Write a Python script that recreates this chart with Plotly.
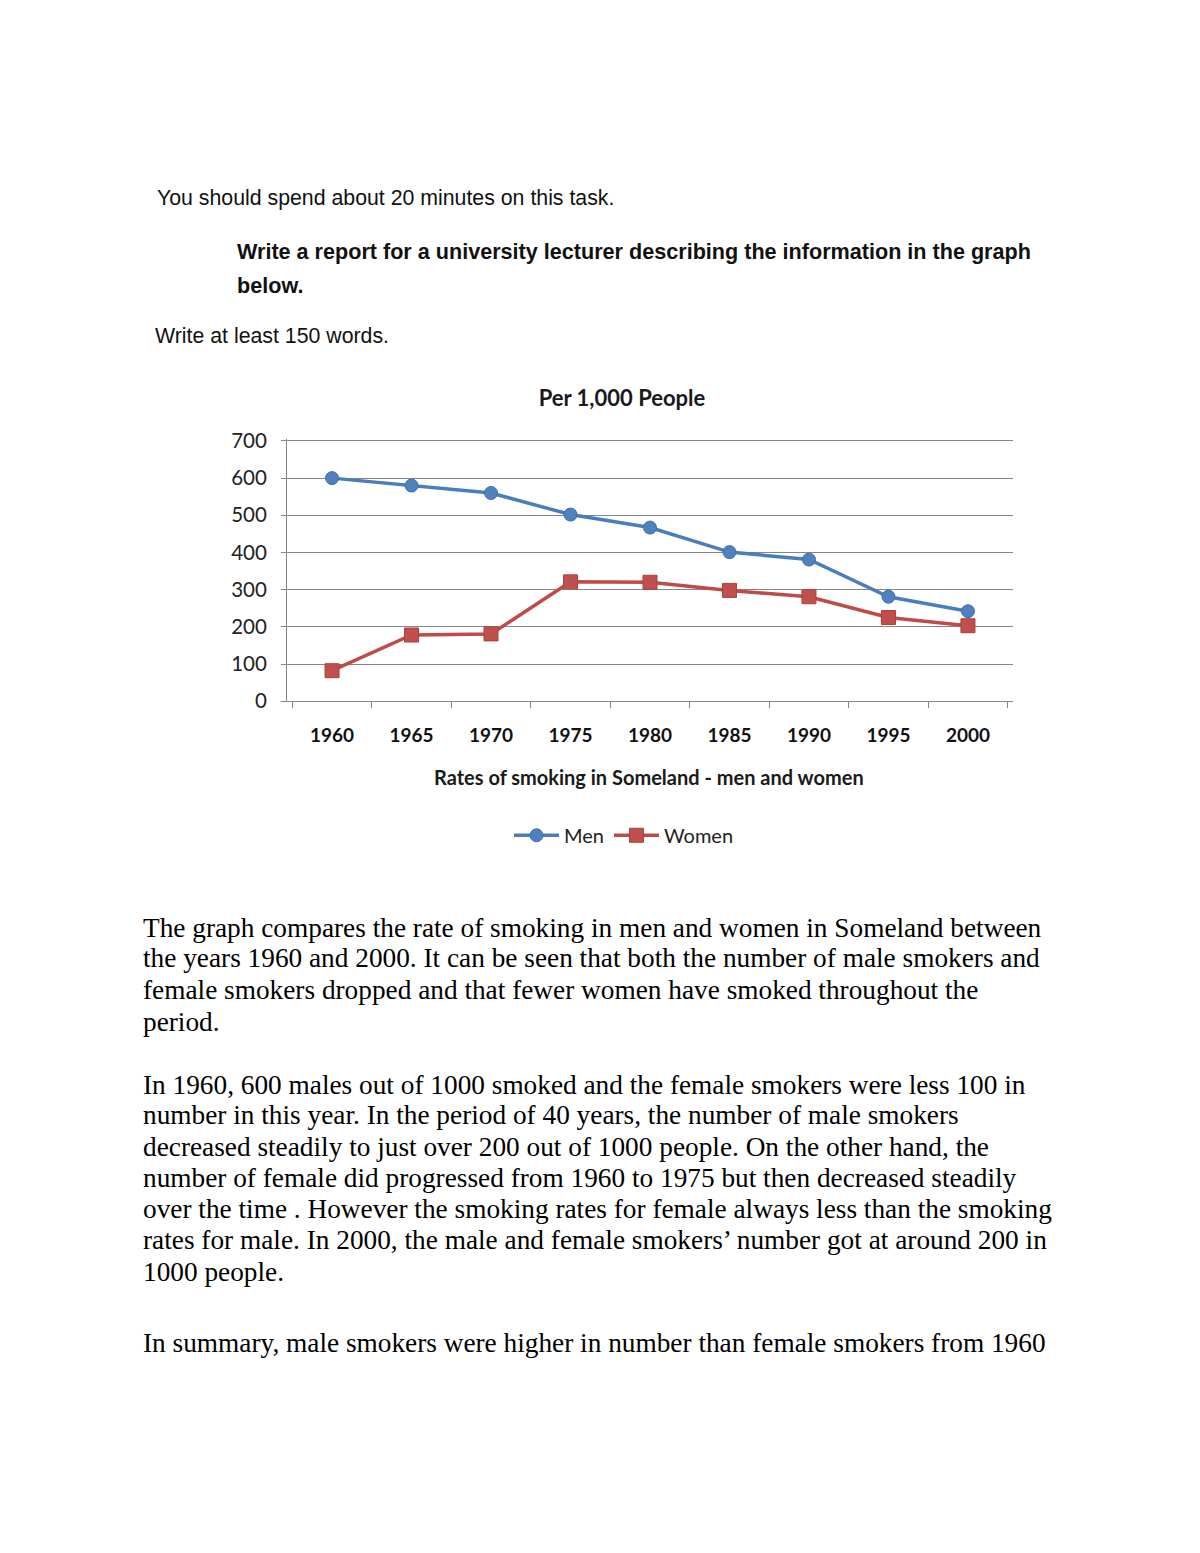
import plotly.graph_objects as go

# ---- data ----
years = ["1960", "1965", "1970", "1975", "1980", "1985", "1990", "1995", "2000"]
men = [600, 580, 560, 502, 467, 401, 381, 281, 242]
women = [82, 178, 181, 321, 320, 298, 281, 225, 203]
y_ticks = [0, 100, 200, 300, 400, 500, 600, 700]

chart_title = "Per 1,000 People"
x_title = "Rates of smoking in Someland - men and women"

header_lines = [
    ("You should spend about 20 minutes on this task.", 155, 190, False),
    ("Write a report for a university lecturer describing the information in the graph", 235, 244, True),
    ("below.", 235, 278, True),
    ("Write at least 150 words.", 153, 330, False),
]

body_lines = [
    ("The graph compares the rate of smoking in men and women in Someland between", 930),
    ("the years 1960 and 2000. It can be seen that both the number of male smokers and", 961),
    ("female smokers dropped and that fewer women have smoked throughout the", 993),
    ("period.", 1025),
    ("In 1960, 600 males out of 1000 smoked and the female smokers were less 100 in", 1089),
    ("number in this year. In the period of 40 years, the number of male smokers", 1120),
    ("decreased steadily to just over 200 out of 1000 people. On the other hand, the", 1152),
    ("number of female did progressed from 1960 to 1975 but then decreased steadily", 1184),
    ("over the time . However the smoking rates for female always less than the smoking", 1215),
    ("rates for male. In 2000, the male and female smokers\u2019 number got at around 200 in", 1247),
    ("1000 people.", 1279),
    ("In summary, male smokers were higher in number than female smokers from 1960", 1351),
]

W, H = 1200, 1553
OFF = 8  # page body margin


def px(x):
    return (x - OFF) / W


def py(y):
    return 1 - (y - OFF) / H


chart_font = "Lato, Noto Sans, sans-serif"

fig = go.Figure()
fig.add_trace(go.Scatter(
    x=years, y=men, name="Men", mode="lines+markers",
    line=dict(color="#4A7EBB", width=3.5),
    marker=dict(symbol="circle", size=13, color="#4F81BD",
                line=dict(color="#3F6FAE", width=1)),
))
fig.add_trace(go.Scatter(
    x=years, y=women, name="Women", mode="lines+markers",
    line=dict(color="#BE4B48", width=3.5),
    marker=dict(symbol="square", size=14, color="#C0504D",
                line=dict(color="#A8403D", width=1)),
))

annotations = []
for text, x, y, bold in header_lines:
    annotations.append(dict(
        text=f"<b>{text}</b>" if bold else text,
        x=px(x), y=py(y), xref="paper", yref="paper",
        xanchor="left", yanchor="middle", showarrow=False,
        font=dict(family="Liberation Sans, Arial, sans-serif",
                  size=21.6 if bold else 21.3, color="#111111"),
    ))
for text, y in body_lines:
    annotations.append(dict(
        text=text, x=px(141), y=py(y), xref="paper", yref="paper",
        xanchor="left", yanchor="middle", showarrow=False,
        font=dict(family="Liberation Serif, Times New Roman, serif",
                  size=27.3, color="#000000"),
    ))
annotations.append(dict(
    text=f"<b>{x_title}</b>", x=px(649), y=py(777), xref="paper", yref="paper",
    xanchor="center", yanchor="middle", showarrow=False,
    font=dict(family=chart_font, size=20, color="#1a1a1a"),
))

# plot area: 0 at y=700, 700 at y=436 (reference pixels); small headroom so top grid shows
y_top = 704
unit = (700 - 436) / 700.0
top_px = 700 - y_top * unit

fig.update_layout(
    width=W, height=H,
    margin=dict(l=0, r=0, t=0, b=0),
    paper_bgcolor="white", plot_bgcolor="white",
    title=dict(text=f"<b>{chart_title}</b>", x=px(622), xanchor="center",
               y=py(398), yanchor="middle", xref="paper", yref="container",
               font=dict(family=chart_font, size=22, color="#1a1a1a")),
    xaxis=dict(
        domain=[px(287), px(1013)], type="category",
        showline=True, linecolor="#868686", linewidth=1,
        ticks="outside", tickson="boundaries", ticklen=6, tickcolor="#868686",
        showgrid=False, ticklabelstandoff=17,
        tickfont=dict(family=chart_font, size=19, color="#111111", weight="bold"),
    ),
    yaxis=dict(
        domain=[py(700), py(top_px)], range=[0, y_top],
        tickvals=y_ticks, showline=True, linecolor="#868686", linewidth=1,
        ticks="outside", ticklen=5, tickcolor="#868686",
        showgrid=True, gridcolor="#858585", gridwidth=1.2, zeroline=False,
        ticklabelstandoff=10,
        tickfont=dict(family=chart_font, size=20.5, color="#222222"),
    ),
    legend=dict(orientation="h", x=px(624), xanchor="center",
                y=py(836), yanchor="middle", itemwidth=45,
                font=dict(family=chart_font, size=20, color="#222222"),
                bgcolor="rgba(0,0,0,0)"),
    annotations=annotations,
)

fig.write_html("out.html")
